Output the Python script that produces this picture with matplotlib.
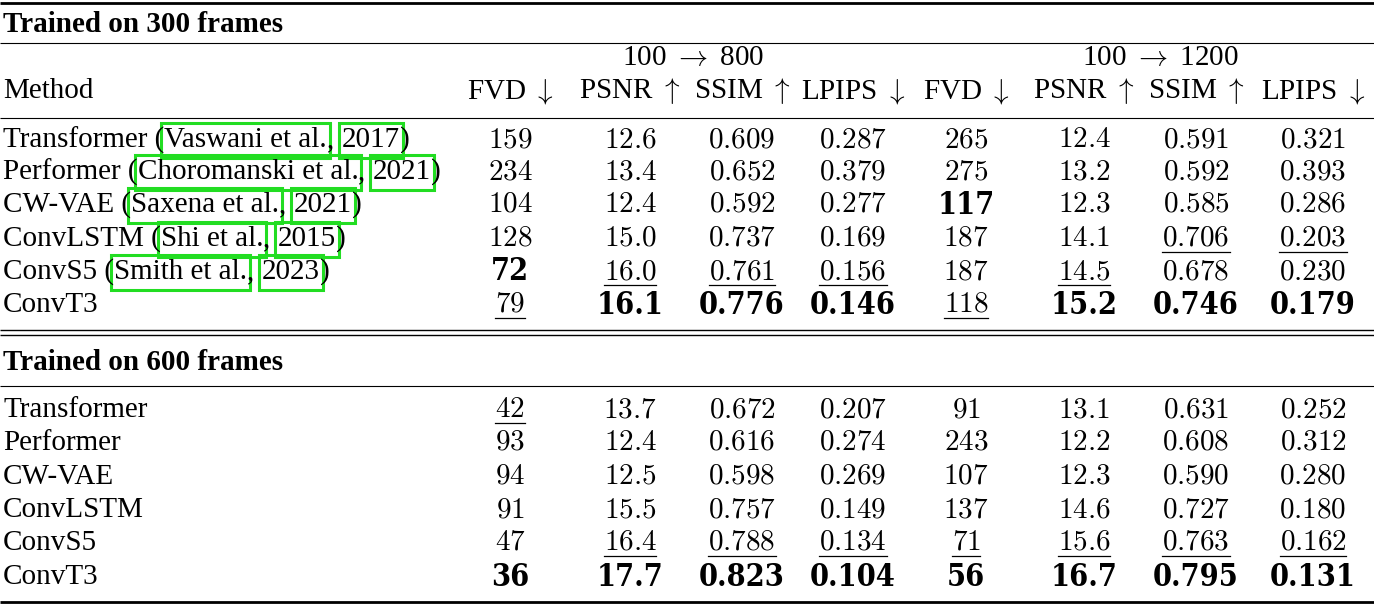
import matplotlib
matplotlib.use("Agg")
import matplotlib.pyplot as plt
from matplotlib.patches import Rectangle

plt.rcParams['font.family'] = ['Liberation Serif', 'DejaVu Serif']
plt.rcParams['mathtext.fontset'] = 'cm'

metrics = ["FVD", "PSNR", "SSIM", "LPIPS", "FVD", "PSNR", "SSIM", "LPIPS"]
arrows = ["down", "up", "up", "down", "down", "up", "up", "down"]
methods = ["Transformer", "Performer", "CW-VAE", "ConvLSTM", "ConvS5", "ConvT3"]
cite_authors = ["Vaswani et al.", "Choromanski et al.", "Saxena et al.", "Shi et al.", "Smith et al.", None]
cite_years = ["2017", "2021", "2021", "2015", "2023", None]
vals300 = [
    ["159", "12.6", "0.609", "0.287", "265", "12.4", "0.591", "0.321"],
    ["234", "13.4", "0.652", "0.379", "275", "13.2", "0.592", "0.393"],
    ["104", "12.4", "0.592", "0.277", "117", "12.3", "0.585", "0.286"],
    ["128", "15.0", "0.737", "0.169", "187", "14.1", "0.706", "0.203"],
    ["72", "16.0", "0.761", "0.156", "187", "14.5", "0.678", "0.230"],
    ["79", "16.1", "0.776", "0.146", "118", "15.2", "0.746", "0.179"],
]
style300 = [
    ["", "", "", "", "", "", "", ""],
    ["", "", "", "", "", "", "", ""],
    ["", "", "", "", "b", "", "", ""],
    ["", "", "", "", "", "", "u", "u"],
    ["b", "u", "u", "u", "", "u", "", ""],
    ["u", "b", "b", "b", "u", "b", "b", "b"],
]
vals600 = [
    ["42", "13.7", "0.672", "0.207", "91", "13.1", "0.631", "0.252"],
    ["93", "12.4", "0.616", "0.274", "243", "12.2", "0.608", "0.312"],
    ["94", "12.5", "0.598", "0.269", "107", "12.3", "0.590", "0.280"],
    ["91", "15.5", "0.757", "0.149", "137", "14.6", "0.727", "0.180"],
    ["47", "16.4", "0.788", "0.134", "71", "15.6", "0.763", "0.162"],
    ["36", "17.7", "0.823", "0.104", "56", "16.7", "0.795", "0.131"],
]
style600 = [
    ["u", "", "", "", "", "", "", ""],
    ["", "", "", "", "", "", "", ""],
    ["", "", "", "", "", "", "", ""],
    ["", "", "", "", "", "", "", ""],
    ["", "u", "u", "u", "u", "u", "u", "u"],
    ["b", "b", "b", "b", "b", "b", "b", "b"],
]

W, H = 1374, 606
fig = plt.figure(figsize=(W / 100, H / 100), dpi=100)
ax = fig.add_axes([0, 0, 1, 1])
ax.set_xlim(0, W)
ax.set_ylim(H, 0)
ax.axis('off')
fig.canvas.draw()
renderer = fig.canvas.get_renderer()
FS = 21
colx = [510, 630, 742, 853, 966, 1084, 1196, 1313]

def width_px(t):
    return t.get_window_extent(renderer).width

def hline(y, lw=1.0):
    ax.plot([0, W], [y, y], color='black', lw=lw, solid_capstyle='butt')

hline(3, 2.0)
ax.text(3, 25, "Trained on 300 frames", fontsize=FS, fontweight='bold', va='center')
hline(43, 0.8)
ax.text(693, 58, r"100 $\rightarrow$ 800", fontsize=FS, ha='center', va='center')
ax.text(1160, 58, r"100 $\rightarrow$ 1200", fontsize=FS, ha='center', va='center')
ax.text(3, 91, "Method", fontsize=FS, va='center')
for x, m, a in zip(colx, metrics, arrows):
    arr = r"$\downarrow$" if a == "down" else r"$\uparrow$"
    ax.text(x, 91, m + " " + arr, fontsize=FS, ha='center', va='center')
hline(118, 0.8)

def cell(x, y, s, st):
    if st == "b":
        ax.text(x, y, s, fontsize=FS + 1, fontweight='bold', family='DejaVu Serif',
                ha='center', va='center', fontstretch='condensed')
        return
    t = ax.text(x, y, "$" + s + "$", fontsize=FS, ha='center', va='center')
    if st == "u":
        w = width_px(t)
        ax.plot([x - w / 2, x + w / 2], [y + 13, y + 13], color='black', lw=0.9)

rows300 = [140, 172, 205, 239, 272, 305]
for i, y in enumerate(rows300):
    x = 3
    if cite_authors[i] is None:
        ax.text(x, y, methods[i], fontsize=FS, va='center')
    else:
        pieces = [(methods[i] + " (", False), (cite_authors[i], True), (", ", False),
                  (cite_years[i], True), (")", False)]
        for p, box in pieces:
            t = ax.text(x, y, p, fontsize=FS, va='center')
            w = width_px(t)
            if box:
                ax.add_patch(Rectangle((x - 3, y - 17), w + 6, 35, fill=False,
                                       edgecolor='#22dd22', lw=2.2))
            x += w
    for j in range(8):
        cell(colx[j], y, vals300[i][j], style300[i][j])

hline(330, 1.0)
hline(335, 1.0)
ax.text(3, 362, "Trained on 600 frames", fontsize=FS, fontweight='bold', va='center')
hline(386, 0.8)
rows600 = [410, 443, 477, 510, 543, 577]
for i, y in enumerate(rows600):
    ax.text(3, y, methods[i], fontsize=FS, va='center')
    for j in range(8):
        cell(colx[j], y, vals600[i][j], style600[i][j])
hline(602, 2.0)

fig.savefig("out.png", dpi=100)
